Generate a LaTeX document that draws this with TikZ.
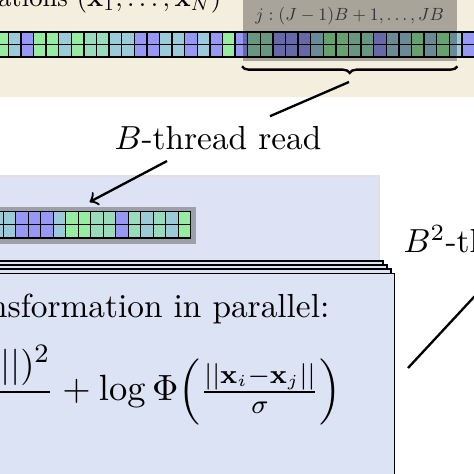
\documentclass[tikz,border=0pt]{standalone}
\usepackage{amsmath}
\usepackage{amssymb}
\usepackage{bm}
\usepackage{xcolor}
\usetikzlibrary{decorations.pathreplacing}
\definecolor{paper}{RGB}{244,238,222}
\definecolor{cg}{RGB}{150,236,160}
\definecolor{clb}{RGB}{155,202,216}
\definecolor{cb}{RGB}{150,152,244}
\definecolor{ct}{RGB}{152,220,188}
\definecolor{panelblue}{RGB}{221,227,245}
\definecolor{sheetblue}{RGB}{220,227,244}
\definecolor{stripgray}{RGB}{155,160,170}
\tikzset{
    cell/.style={draw=black, line width=0.4pt},
    sheet/.style={draw=black, line width=0.4pt, fill=sheetblue},
    link/.style={line width=0.7pt},
    every node/.style={inner sep=0pt},
}

\begin{document}
\begin{tikzpicture}[x=0.3pt, y=0.3pt]
            \useasboundingbox (0,0) rectangle (474,474);
            \clip (0,0) rectangle (474,474);
            % host side
            \fill[paper] (-10,377) rectangle (484,484);
            \node[anchor=base east] (obs) at (222,467)
                {\scalebox{0.8}{Observations $(\mathbf{x}_1,\ldots,\mathbf{x}_N)$}};
            \foreach \c [count=\k from -1] in {cg,clb,cb,cg,cg,clb,cg,ct,ct,clb,clb,cb,cb,clb,clb,cb,clb,cb,cg,cb,ct,ct,cb,cb,cb,clb,cg,cg,ct,ct,cb,clb,clb,cg,clb,cg,clb,cb}{
                \draw[cell, fill=\c] (8.3+12.6*\k,417) rectangle ++(12.6,12.5);
                \draw[cell, fill=\c] (8.3+12.6*\k,429.5) rectangle ++(12.6,12.5);
            }
            \node[fill=black, fill opacity=0.31, text opacity=1, text=black!80,
                minimum width=64.2pt, minimum height=27pt,
                anchor=south west] (batch) at (242,412)
                {\scalebox{0.53}{$j:(J-1)B+1,\ldots,JB$}};
            \draw[link, decorate, decoration={brace, mirror, amplitude=2pt}]
                ([yshift=-1.3pt]batch.south west) -- ([yshift=-1.3pt]batch.south east);
            \coordinate (bracetip) at (349,392);
            \node[anchor=base] (read) at (218,324) {$B$-thread read};
            \draw[link] (bracetip) -- ([xshift=15.6pt, yshift=3pt]read.north);

            % block
            \draw[fill=panelblue, draw=black!12] (-10,120) rectangle (379,298);
            \node[fill=stripgray, minimum width=62.1pt, minimum height=11.1pt,
                anchor=north east] (shared) at (197,268) {};
            \foreach \c [count=\k from 0] in {clb,clb,cb,cb,cb,clb,cg,cg,ct,ct,cb,ct,clb,ct,clb,cg}{
                \draw[cell, fill=\c] (-9.2+12.5*\k,236) rectangle ++(12.5,13.25);
                \draw[cell, fill=\c] (-9.2+12.5*\k,249.25) rectangle ++(12.5,13.25);
            }
            \draw[link, -to] ([xshift=-15.3pt, yshift=-3pt]read.south) -- ([xshift=-1pt, yshift=1.2pt]shared.north);

            % threads
            \foreach \i in {3,2,1}
                \draw[sheet] (-20-4*\i,-20+4*\i) rectangle (395-4*\i,201+4*\i);
            \node[sheet, minimum width=124.5pt, minimum height=66.3pt,
                anchor=north east] (kernel) at (395,201) {};
            \node[anchor=base east] (title) at (330,156) {Transformation in parallel:};
            \node[anchor=base east, font=\fontsize{11}{13}\selectfont] (formula) at (342,73)
                {$\displaystyle -\frac{(y_{ij}-||\mathbf{x}_i-\mathbf{x}_j||)^2}{2\sigma^2}
                +\log\Phi\Bigl(\tfrac{||\mathbf{x}_i-\mathbf{x}_j||}{\sigma}\Bigr)$};
            \node[anchor=base west] (bsq) at (403,221) {$B^2$-thread};
            \coordinate (kfoot) at (408,106);
            \coordinate (kend) at (500,205);
            \draw[link] (kfoot) -- (kend);
        \end{tikzpicture}
\end{document}
